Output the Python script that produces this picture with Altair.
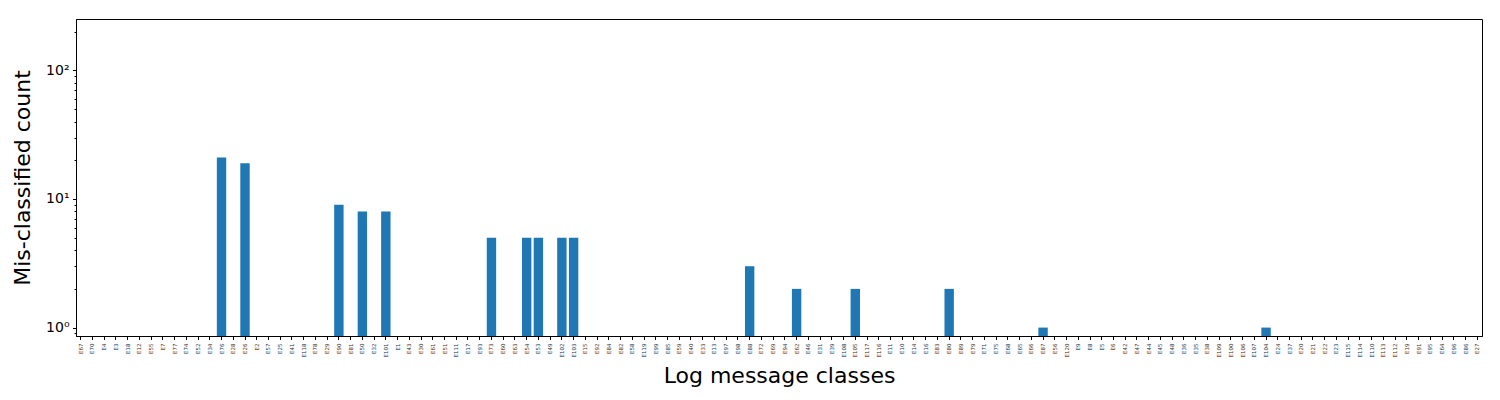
import altair as alt
import pandas as pd

classes = [
    "E67", "E70", "E4", "E3", "E18", "E12", "E55", "E7", "E77", "E74",
    "E52", "E34", "E76", "E28", "E26", "E2", "E57", "E25", "E41", "E118",
    "E78", "E29", "E90", "E81", "E50", "E32", "E101", "E1", "E43", "E30",
    "E61", "E51", "E111", "E17", "E93", "E73", "E60", "E63", "E54", "E53",
    "E49", "E102", "E103", "E15", "E92", "E84", "E82", "E58", "E119", "E99",
    "E85", "E59", "E40", "E33", "E13", "E97", "E98", "E88", "E72", "E69",
    "E94", "E62", "E46", "E31", "E39", "E108", "E105", "E117", "E116", "E11",
    "E10", "E14", "E16", "E83", "E80", "E89", "E79", "E71", "E75", "E68",
    "E65", "E66", "E87", "E56", "E120", "E9", "E8", "E5", "E6", "E42",
    "E47", "E44", "E45", "E48", "E36", "E35", "E38", "E109", "E100", "E106",
    "E107", "E104", "E24", "E37", "E20", "E21", "E22", "E23", "E115", "E114",
    "E110", "E113", "E112", "E19", "E91", "E95", "E64", "E96", "E86", "E27",
]

counts = [
    0, 0, 0, 0, 0, 0, 0, 0, 0, 0,
    0, 0, 21, 0, 19, 0, 0, 0, 0, 0,
    0, 0, 9, 0, 8, 0, 8, 0, 0, 0,
    0, 0, 0, 0, 0, 5, 0, 0, 5, 5,
    0, 5, 5, 0, 0, 0, 0, 0, 0, 0,
    0, 0, 0, 0, 0, 0, 0, 3, 0, 0,
    0, 2, 0, 0, 0, 0, 2, 0, 0, 0,
    0, 0, 0, 0, 2, 0, 0, 0, 0, 0,
    0, 0, 1, 0, 0, 0, 0, 0, 0, 0,
    0, 0, 0, 0, 0, 0, 0, 0, 0, 0,
    0, 1, 0, 0, 0, 0, 0, 0, 0, 0,
    0, 0, 0, 0, 0, 0, 0, 0, 0, 0,
]

y_tick_values = [0.9, 1, 2, 3, 4, 5, 6, 7, 8, 9, 10, 20, 30, 40, 50, 60, 70, 80, 90, 100, 200]

df = pd.DataFrame({"cls": classes, "n": counts})

W, H = 1406, 317

major = "datum.value == 1 || datum.value == 10 || datum.value == 100"

chart = (
    alt.Chart(df)
    .transform_filter("datum.n > 0")
    .mark_bar(color="#1f77b4")
    .encode(
        x=alt.X(
            "cls:N",
            scale=alt.Scale(domain=classes, paddingInner=0.2, paddingOuter=0),
            axis=alt.Axis(
                title="Log message classes",
                titleFontSize=22,
                titleFontWeight="normal",
                titleColor="black",
                titleX=W / 2,
                titleY=46,
                titleAlign="center",
                titleBaseline="alphabetic",
                labelAngle=270,
                labelAlign="right",
                labelBaseline="middle",
                labelFontSize=5.5,
                labelColor="#333333",
                labelPadding=3.5,
                labelOverlap=False,
                tickSize=3.5,
                tickColor="black",
                domainColor="black",
                grid=False,
            ),
        ),
        y=alt.Y(
            "n:Q",
            stack=None,
            scale=alt.Scale(type="log", domain=[0.86, 251], nice=False),
            axis=alt.Axis(
                title="Mis-classified count",
                titleFontSize=22,
                titleFontWeight="normal",
                titleColor="black",
                titleX=-42,
                titleY=H / 2,
                titleAngle=270,
                titleAlign="center",
                titleBaseline="bottom",
                values=y_tick_values,
                labelExpr="datum.value == 1 ? '10⁰' : datum.value == 10 ? '10¹' : datum.value == 100 ? '10²' : ''",
                labelFontSize=14,
                labelColor="black",
                labelPadding=3.5,
                labelOverlap=False,
                tickSize=alt.condition(major, alt.value(3.5), alt.value(2)),
                tickColor="black",
                domainColor="black",
                grid=False,
            ),
        ),
    )
    .properties(
        width=W,
        height=H,
        autosize=alt.AutoSizeParams(type="none"),
        padding={"left": 68, "top": 11, "right": 10, "bottom": 56},
    )
    .configure(font="DejaVu Sans")
    .configure_view(stroke="black", strokeWidth=1)
)

chart.save("out.html", embed_options={"renderer": "svg", "actions": False})
